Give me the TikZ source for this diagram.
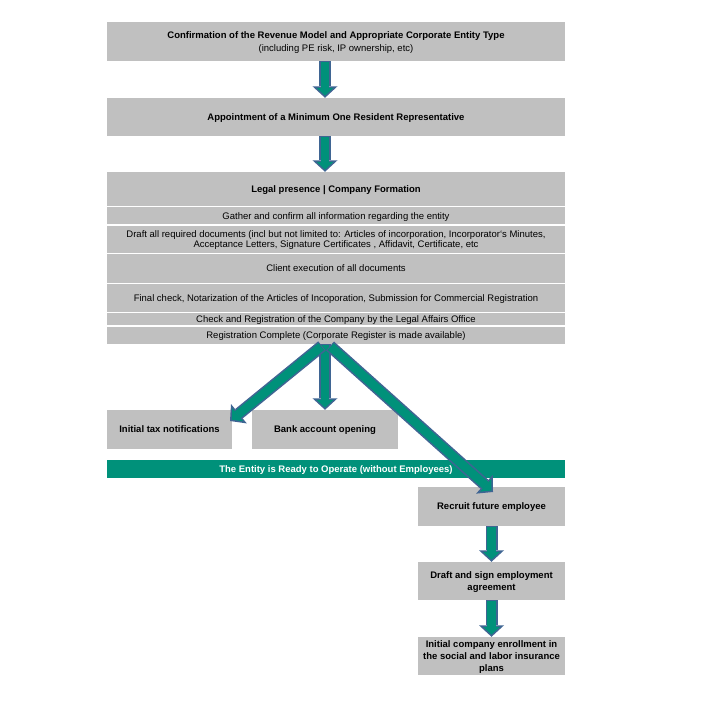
\documentclass[tikz,border=0pt]{standalone}
\usepackage{fontspec}
\setmainfont{Liberation Sans}
\usepackage[HTML]{xcolor}
\usetikzlibrary{positioning, arrows.meta}
\definecolor{boxgray}{HTML}{C0C0C0}
\definecolor{tealfill}{HTML}{00917A}
\definecolor{edgeblue}{HTML}{3F6593}

\begin{document}
\begin{tikzpicture}[x=1pt, y=-1pt,
  box/.style={fill=boxgray, inner sep=0pt, text depth=0pt, align=center, font=\fontsize{9.5}{11.5}\selectfont},
  head/.style={box, font=\fontsize{9.5}{12}\selectfont\bfseries},
  flow/.style={draw=tealfill, line width=8.8pt, shorten <=1pt, shorten >=2.17pt,
    -{Triangle[width=16.8pt, length=7.73pt, line width=0pt]},
    preaction={draw=edgeblue, line width=12pt, shorten <=0pt, shorten >=0pt,
      -{Triangle[width=25pt, length=11.5pt, line width=0pt]}}}]
\fill[white] (0,0) rectangle (708,700);
\coordinate (Axis) at (325,0);

% formation steps
\node[head, minimum width=458pt, minimum height=39pt, font=\fontsize{9.5}{12.5}\selectfont\bfseries] (Conf) at (336,41.5)
  {Confirmation of the Revenue Model and Appropriate Corporate Entity Type\\
   \mdseries (including PE risk, IP ownership, etc)};
\node[head, minimum width=458pt, minimum height=38pt] (Rep) at (336,117)
  {Appointment of a Minimum One Resident Representative};
\node[head, minimum width=458pt, minimum height=34pt] (Legal) at (336,189)
  {Legal presence | Company Formation};
\node[box, minimum width=458pt, minimum height=16.9pt] (Gather) at (336,215.85)
  {Gather and confirm all information regarding the entity};
\node[box, minimum width=458pt, minimum height=26.9pt, font=\fontsize{9.5}{10.5}\selectfont] (Draft) at (336,239.15)
  {Draft all required documents (incl but not limited to: Articles of incorporation, Incorporator`s Minutes,\\
   Acceptance Letters, Signature Certificates , Affidavit, Certificate, etc};
\node[box, minimum width=458pt, minimum height=28.6pt] (Client) at (336,268.3)
  {Client execution of all documents};
\node[box, minimum width=458pt, minimum height=27.6pt] (Final) at (336,297.8)
  {Final check, Notarization of the Articles of Incoporation, Submission for Commercial Registration};
\node[box, minimum width=458pt, minimum height=12.3pt] (Check) at (336,319.15)
  {Check and Registration of the Company by the Legal Affairs Office};
\node[box, minimum width=458pt, minimum height=17.3pt] (Reg) at (336,335.35)
  {Registration Complete (Corporate Register is made available)};

% after registration
\node[head, minimum width=125pt, minimum height=39pt] (Tax) at (169.5,429.5) {Initial tax notifications};
\node[head, minimum width=146pt, minimum height=39pt] (Bank) at (325,429.5) {Bank account opening};
\node[head, fill=tealfill, text=white, minimum width=458pt, minimum height=18pt] (Ready) at (336,469)
  {The Entity is Ready to Operate (without Employees)};

% employees
\node[head, minimum width=147pt, minimum height=39pt] (Recruit) at (491.5,506.5) {Recruit future employee};
\node[head, minimum width=147pt, minimum height=38pt] (Sign) at (491.5,581)
  {Draft and sign employment\\agreement};
\node[head, minimum width=147pt, minimum height=38pt] (Enrol) at (491.5,656)
  {Initial company enrollment in\\the social and labor insurance\\plans};

\coordinate (ForkL) at (322,346);
\coordinate (ForkR) at (330,346);
\coordinate (TaxTip) at (230,421);
\coordinate (RecTip) at (493,492);

\draw[flow] (Conf.south -| Axis) -- (Rep.north -| Axis);
\draw[flow] (Rep.south -| Axis) -- (Legal.north -| Axis);
\draw[flow] (Reg.south -| Axis) -- (Bank.north);
\draw[flow] (ForkL) -- (TaxTip);
\draw[flow] (ForkR) -- (RecTip);
\draw[flow] (Recruit.south) -- (Sign.north);
\draw[flow] (Sign.south) -- (Enrol.north);
\end{tikzpicture}
\end{document}
